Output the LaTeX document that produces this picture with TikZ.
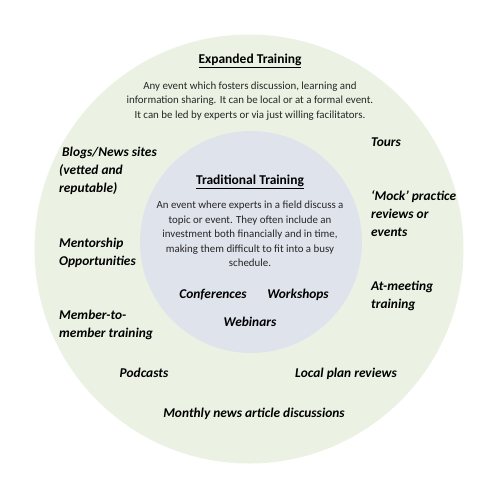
\documentclass[tikz,border=0pt]{standalone}
\usepackage{fontspec}
\setmainfont{Carlito}
\usetikzlibrary{positioning}
\definecolor{OuterFill}{HTML}{EBF2E3}
\definecolor{InnerFill}{HTML}{DFE3EC}
\definecolor{BodyInk}{HTML}{262626}

\begin{document}
\begin{tikzpicture}[
    x=1pt, y=-1pt,
    heading/.style={
      font=\fontsize{13.5}{16}\selectfont\bfseries,
      text=black,
      inner sep=0pt,
      anchor=base,
    },
    blurb/.style={
      font=\fontsize{10.9}{14.5}\selectfont,
      text=BodyInk,
      align=center,
      inner sep=0pt,
      anchor=base,
    },
    item/.style={
      font=\fontsize{13.4}{17.8}\selectfont\bfseries\itshape,
      align=left,
      inner sep=0pt,
      anchor=base west,
    },
    centreitem/.style={item, align=center, anchor=base},
  ]
    \useasboundingbox (0,0) rectangle (500,488);
    % rings
    \fill[OuterFill] (249,249) circle (214.5);
    \fill[InnerFill] (251,242) circle (111);

    % outer ring (multi-line nodes sit on their last baseline)
    \node[heading] (expTitle) at (250,63.5) {\underline{Expanded Training}};
    \node[blurb] (expText) at (250,118) {%
      Any event which fosters discussion, learning and\\
      information sharing. It can be local or at a formal event.\\
      It can be led by experts or via just willing facilitators.};

    \node[item] (tours) at (371,146.5) {Tours};
    \node[item] (blogs) at (59,192.5) {\ Blogs/News sites\\(vetted and\\reputable)};
    \node[item] (mock) at (371,236.5) {‘Mock’ practice\\reviews or\\events};
    \node[item] (mentor) at (59,265.5) {Mentorship\\Opportunities};
    \node[item] (meeting) at (371,308.5) {At-meeting\\training};
    \node[item] (member) at (59,337.5) {Member-to-\\member training};
    \node[centreitem] (podcasts) at (144,377.5) {Podcasts};
    \node[centreitem] (localplan) at (346,377.5) {Local plan reviews};
    \node[centreitem] (monthly) at (254,417.5) {Monthly news article discussions};

    % inner circle
    \node[heading] (tradTitle) at (250,184.5) {\underline{Traditional Training}};
    \node[blurb] (tradText) at (250,266.7) {%
      An event where experts in a field discuss a\\
      topic or event. They often include an\\
      investment both financially and in time,\\
      making them difficult to fit into a busy\\
      schedule.};
    \node[centreitem] (conf) at (213,298.5) {Conferences};
    \node[centreitem] (workshops) at (298,298.5) {Workshops};
    \node[centreitem] (webinars) at (250,326.5) {Webinars};
  \end{tikzpicture}
\end{document}
